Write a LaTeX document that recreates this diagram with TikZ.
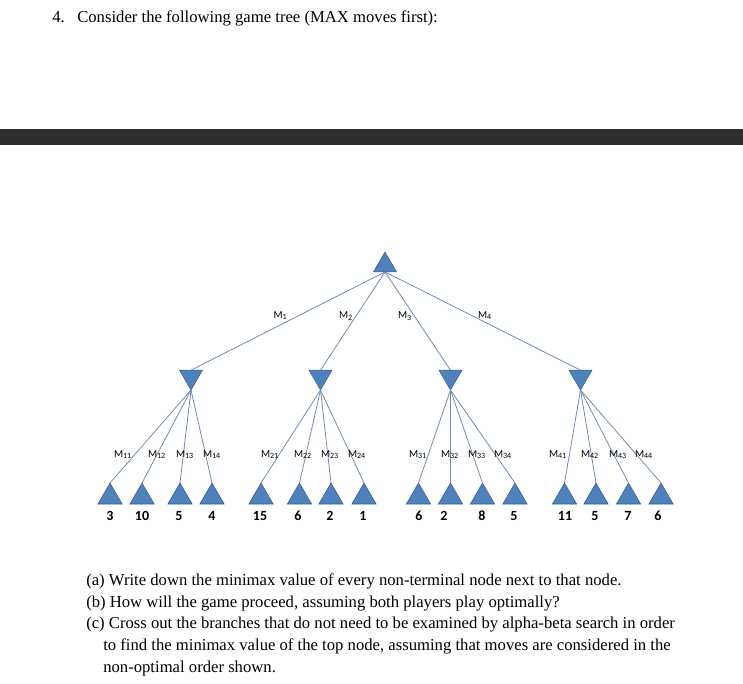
\documentclass[tikz,border=0pt]{standalone}
\usepackage{fontspec}
\setmainfont{Liberation Serif}
\newfontfamily\calibri{Carlito}
\usepackage{tikz}
\usetikzlibrary{shapes.geometric}
\definecolor{triblue}{RGB}{79,129,189}
\definecolor{triedge}{RGB}{56,93,138}
\definecolor{branchblue}{RGB}{112,140,180}
\definecolor{barblack}{RGB}{46,46,46}
\tikzset{
  tri/.style     = {regular polygon, regular polygon sides=3, fill=triblue,
                    draw=triedge, line width=0.4pt, inner sep=0pt, outer sep=0pt},
  maxnode/.style = {tri, minimum size=19.9pt},
  minnode/.style = {tri, minimum size=19.9pt, shape border rotate=180},
  leaf/.style    = {tri, minimum size=21pt},
  branch/.style  = {draw=branchblue, line width=0.6pt},
  mlabel/.style  = {anchor=base, inner sep=0pt, font=\calibri\fontsize{8}{9}\selectfont},
  value/.style   = {anchor=base, inner sep=0pt, font=\calibri\bfseries\fontsize{10.5}{12}\selectfont},
  question/.style = {anchor=base west, inner sep=0pt, font=\fontsize{12.5}{14}\selectfont}
}
\newcommand{\mv}[1]{M\textsubscript{#1}}

\begin{document}
\begin{tikzpicture}[x=0.75pt, y=-0.75pt]
  \useasboundingbox (0,0) rectangle (743,684);

  % heading and dark band
  \node[question] (title) at (52,22.5) {\makebox[18.75pt][l]{4.}Consider the following game tree (MAX moves first):};
  \fill[barblack] (0,129) rectangle (743,145);

  % tree nodes
  \node[maxnode] (root) at (385,265.3) {};
  \node[minnode] (n1) at (191,376.8) {};
  \node[minnode] (n2) at (320.5,376.8) {};
  \node[minnode] (n3) at (450.5,376.8) {};
  \node[minnode] (n4) at (580.5,376.8) {};

  \node[leaf] (l11) at (110,497) {};
  \node[leaf] (l12) at (142,497) {};
  \node[leaf] (l13) at (180,497) {};
  \node[leaf] (l14) at (212,497) {};
  \node[leaf] (l21) at (261,497) {};
  \node[leaf] (l22) at (299.5,497) {};
  \node[leaf] (l23) at (331,497) {};
  \node[leaf] (l24) at (364,497) {};
  \node[leaf] (l31) at (418.5,497) {};
  \node[leaf] (l32) at (450.5,497) {};
  \node[leaf] (l33) at (482.5,497) {};
  \node[leaf] (l34) at (515,497) {};
  \node[leaf] (l41) at (564.5,497) {};
  \node[leaf] (l42) at (596,497) {};
  \node[leaf] (l43) at (628.5,497) {};
  \node[leaf] (l44) at (661,497) {};

  % branches
  \draw[branch] (root.side 2) -- (n1.side 2);
  \draw[branch] (root.side 2) -- (n2.side 2);
  \draw[branch] (root.side 2) -- (n3.side 2);
  \draw[branch] (root.side 2) -- (n4.side 2);
  \draw[branch] (n1.corner 1) -- (l11.corner 1);
  \draw[branch] (n1.corner 1) -- (l12.corner 1);
  \draw[branch] (n1.corner 1) -- (l13.corner 1);
  \draw[branch] (n1.corner 1) -- (l14.corner 1);
  \draw[branch] (n2.corner 1) -- (l21.corner 1);
  \draw[branch] (n2.corner 1) -- (l22.corner 1);
  \draw[branch] (n2.corner 1) -- (l23.corner 1);
  \draw[branch] (n2.corner 1) -- (l24.corner 1);
  \draw[branch] (n3.corner 1) -- (l31.corner 1);
  \draw[branch] (n3.corner 1) -- (l32.corner 1);
  \draw[branch] (n3.corner 1) -- (l33.corner 1);
  \draw[branch] (n3.corner 1) -- (l34.corner 1);
  \draw[branch] (n4.corner 1) -- (l41.corner 1);
  \draw[branch] (n4.corner 1) -- (l42.corner 1);
  \draw[branch] (n4.corner 1) -- (l43.corner 1);
  \draw[branch] (n4.corner 1) -- (l44.corner 1);

  % move labels
  \node[mlabel] (m1) at (280.5,318.5) {\mv{1}};
  \node[mlabel] (m2) at (346,318.5) {\mv{2}};
  \node[mlabel] (m3) at (405,318.5) {\mv{3}};
  \node[mlabel] (m4) at (485,318.5) {\mv{4}};
  \node[mlabel] (m11) at (123,457) {\mv{11}};
  \node[mlabel] (m12) at (157,457) {\mv{12}};
  \node[mlabel] (m13) at (185,457) {\mv{13}};
  \node[mlabel] (m14) at (212,457) {\mv{14}};
  \node[mlabel] (m21) at (270,457) {\mv{21}};
  \node[mlabel] (m22) at (303,457) {\mv{22}};
  \node[mlabel] (m23) at (330,457) {\mv{23}};
  \node[mlabel] (m24) at (357,457) {\mv{24}};
  \node[mlabel] (m31) at (418,457) {\mv{31}};
  \node[mlabel] (m32) at (450,457) {\mv{32}};
  \node[mlabel] (m33) at (477,457) {\mv{33}};
  \node[mlabel] (m34) at (503,457) {\mv{34}};
  \node[mlabel] (m41) at (558,457) {\mv{41}};
  \node[mlabel] (m42) at (590,457) {\mv{42}};
  \node[mlabel] (m43) at (618,457) {\mv{43}};
  \node[mlabel] (m44) at (644,457) {\mv{44}};

  % terminal values
  \node[value] (v11) at (110,520.5) {3};
  \node[value] (v12) at (142,520.5) {10};
  \node[value] (v13) at (179,520.5) {5};
  \node[value] (v14) at (212,520.5) {4};
  \node[value] (v21) at (260,520.5) {15};
  \node[value] (v22) at (298,520.5) {6};
  \node[value] (v23) at (330,520.5) {2};
  \node[value] (v24) at (363,520.5) {1};
  \node[value] (v31) at (419,520.5) {6};
  \node[value] (v32) at (444,520.5) {2};
  \node[value] (v33) at (482,520.5) {8};
  \node[value] (v34) at (514,520.5) {5};
  \node[value] (v41) at (565,520.5) {11};
  \node[value] (v42) at (595,520.5) {5};
  \node[value] (v43) at (628,520.5) {7};
  \node[value] (v44) at (658,520.5) {6};

  % questions
  \node[question] (qa) at (86,585) {(a) Write down the minimax value of every non-terminal node next to that node.};
  \node[question] (qb) at (86,607) {(b) How will the game proceed, assuming both players play optimally?};
  \node[question] (qc) at (86,628) {(c) Cross out the branches that do not need to be examined by alpha-beta search in order};
  \node[question] (qc2) at (103,650) {to find the minimax value of the top node, assuming that moves are considered in the};
  \node[question] (qc3) at (103,672) {non-optimal order shown.};
\end{tikzpicture}
\end{document}
